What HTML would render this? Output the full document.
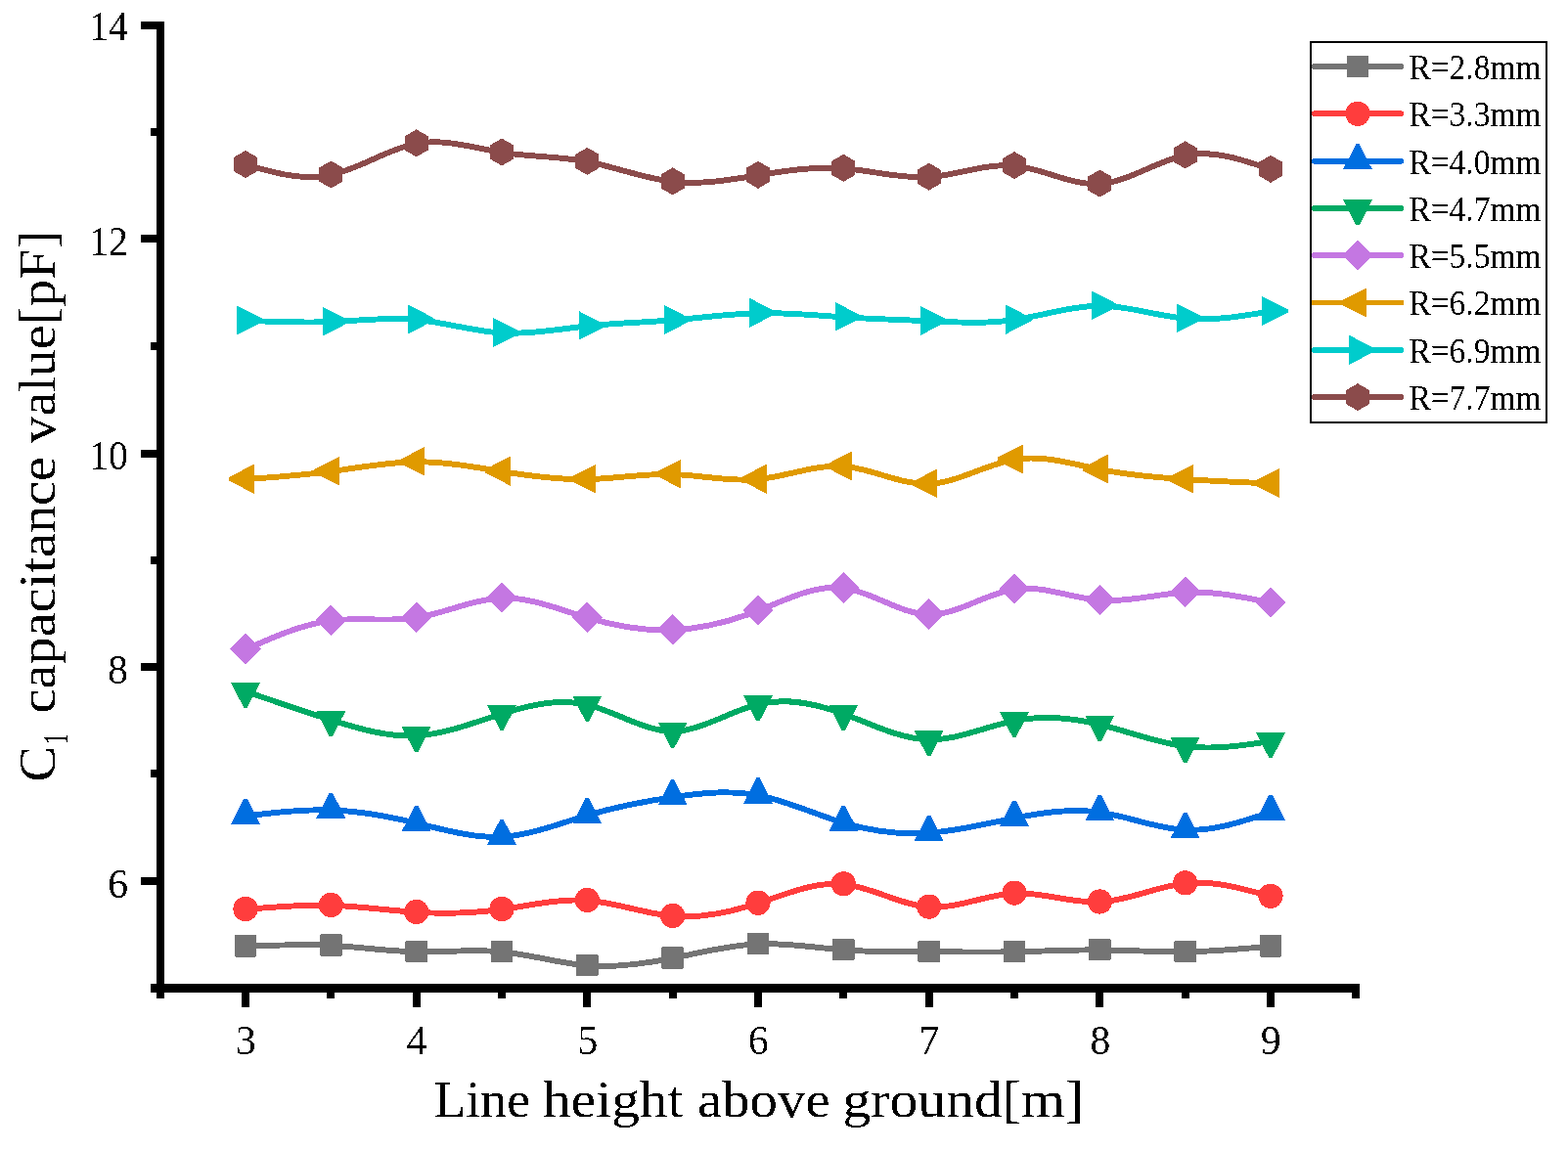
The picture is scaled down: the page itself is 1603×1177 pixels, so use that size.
<!DOCTYPE html>
<html><head><meta charset="utf-8"><style>
html,body{margin:0;padding:0;background:#fff;}
svg{display:block;}
text{font-family:'Liberation Serif', 'DejaVu Serif', serif;fill:#000;}
</style></head><body>
<svg width="1603" height="1177" viewBox="0 0 1603 1177">
<defs><filter id="bin" x="0" y="0" width="1603" height="1177" filterUnits="userSpaceOnUse"><feComponentTransfer><feFuncA type="discrete" tableValues="0 1"/></feComponentTransfer></filter></defs>
<rect width="1603" height="1177" fill="#fff"/>
<g shape-rendering="crispEdges" fill="#000">
<rect x="160.00" y="22.00" width="8.00" height="993.00"/>
<rect x="160.00" y="1015.00" width="8.00" height="6.00"/>
<rect x="154.00" y="1006.00" width="1236.00" height="9.00"/>
<rect x="247.00" y="1015.00" width="8.00" height="15.00"/>
<rect x="422.00" y="1015.00" width="8.00" height="15.00"/>
<rect x="596.00" y="1015.00" width="8.00" height="15.00"/>
<rect x="771.00" y="1015.00" width="8.00" height="15.00"/>
<rect x="946.00" y="1015.00" width="8.00" height="15.00"/>
<rect x="1120.00" y="1015.00" width="8.00" height="15.00"/>
<rect x="1295.00" y="1015.00" width="8.00" height="15.00"/>
<rect x="334.00" y="1015.00" width="8.00" height="6.00"/>
<rect x="509.00" y="1015.00" width="8.00" height="6.00"/>
<rect x="684.00" y="1015.00" width="8.00" height="6.00"/>
<rect x="858.00" y="1015.00" width="8.00" height="6.00"/>
<rect x="1033.00" y="1015.00" width="8.00" height="6.00"/>
<rect x="1208.00" y="1015.00" width="8.00" height="6.00"/>
<rect x="1382.00" y="1015.00" width="8.00" height="6.00"/>
<rect x="144.00" y="897.00" width="16.00" height="8.00"/>
<rect x="144.00" y="678.00" width="16.00" height="8.00"/>
<rect x="144.00" y="460.00" width="16.00" height="8.00"/>
<rect x="144.00" y="240.00" width="16.00" height="8.00"/>
<rect x="144.00" y="22.00" width="16.00" height="8.00"/>
<rect x="154.00" y="787.00" width="6.00" height="8.00"/>
<rect x="154.00" y="569.00" width="6.00" height="8.00"/>
<rect x="154.00" y="350.00" width="6.00" height="8.00"/>
<rect x="154.00" y="131.00" width="6.00" height="8.00"/>
</g>
<g shape-rendering="crispEdges">
<path d="M251.00 967.80 C280.11 966.52 309.22 965.24 338.33 966.80 C367.44 968.36 396.56 972.76 425.67 973.30 C454.78 973.84 483.89 970.50 513.00 973.30 C542.11 976.10 571.22 985.02 600.33 987.40 C629.44 989.78 658.56 985.61 687.67 979.80 C716.78 973.99 745.89 966.52 775.00 965.30 C804.11 964.08 833.22 969.10 862.33 971.40 C891.44 973.70 920.56 973.26 949.67 973.30 C978.78 973.34 1007.89 973.84 1037.00 973.30 C1066.11 972.76 1095.22 971.19 1124.33 971.40 C1153.44 971.61 1182.56 973.62 1211.67 973.30 C1240.78 972.98 1269.89 970.34 1299.00 967.70" fill="none" stroke="#747474" stroke-width="5.9"/>
<polygon points="240.90,956.00 261.10,956.00 262.40,957.30 262.40,977.50 261.10,978.80 240.90,978.80 239.60,977.50 239.60,957.30" fill="#747474"/>
<polygon points="328.23,955.00 348.43,955.00 349.73,956.30 349.73,976.50 348.43,977.80 328.23,977.80 326.93,976.50 326.93,956.30" fill="#747474"/>
<polygon points="415.57,961.50 435.77,961.50 437.07,962.80 437.07,983.00 435.77,984.30 415.57,984.30 414.27,983.00 414.27,962.80" fill="#747474"/>
<polygon points="502.90,961.50 523.10,961.50 524.40,962.80 524.40,983.00 523.10,984.30 502.90,984.30 501.60,983.00 501.60,962.80" fill="#747474"/>
<polygon points="590.23,975.60 610.43,975.60 611.73,976.90 611.73,997.10 610.43,998.40 590.23,998.40 588.93,997.10 588.93,976.90" fill="#747474"/>
<polygon points="677.57,968.00 697.77,968.00 699.07,969.30 699.07,989.50 697.77,990.80 677.57,990.80 676.27,989.50 676.27,969.30" fill="#747474"/>
<polygon points="764.90,953.50 785.10,953.50 786.40,954.80 786.40,975.00 785.10,976.30 764.90,976.30 763.60,975.00 763.60,954.80" fill="#747474"/>
<polygon points="852.23,959.60 872.43,959.60 873.73,960.90 873.73,981.10 872.43,982.40 852.23,982.40 850.93,981.10 850.93,960.90" fill="#747474"/>
<polygon points="939.57,961.50 959.77,961.50 961.07,962.80 961.07,983.00 959.77,984.30 939.57,984.30 938.27,983.00 938.27,962.80" fill="#747474"/>
<polygon points="1026.90,961.50 1047.10,961.50 1048.40,962.80 1048.40,983.00 1047.10,984.30 1026.90,984.30 1025.60,983.00 1025.60,962.80" fill="#747474"/>
<polygon points="1114.23,959.60 1134.43,959.60 1135.73,960.90 1135.73,981.10 1134.43,982.40 1114.23,982.40 1112.93,981.10 1112.93,960.90" fill="#747474"/>
<polygon points="1201.57,961.50 1221.77,961.50 1223.07,962.80 1223.07,983.00 1221.77,984.30 1201.57,984.30 1200.27,983.00 1200.27,962.80" fill="#747474"/>
<polygon points="1288.90,955.90 1309.10,955.90 1310.40,957.20 1310.40,977.40 1309.10,978.70 1288.90,978.70 1287.60,977.40 1287.60,957.20" fill="#747474"/>
<path d="M251.00 929.90 C280.11 927.40 309.22 924.90 338.33 925.80 C367.44 926.70 396.56 931.01 425.67 932.80 C454.78 934.59 483.89 933.87 513.00 929.90 C542.11 925.93 571.22 918.72 600.33 920.80 C629.44 922.88 658.56 934.24 687.67 936.80 C716.78 939.36 745.89 933.10 775.00 923.60 C804.11 914.10 833.22 901.34 862.33 904.20 C891.44 907.06 920.56 925.54 949.67 927.50 C978.78 929.46 1007.89 914.91 1037.00 913.50 C1066.11 912.09 1095.22 923.81 1124.33 922.40 C1153.44 920.99 1182.56 906.44 1211.67 903.30 C1240.78 900.16 1269.89 908.43 1299.00 916.70" fill="none" stroke="#FF3D3D" stroke-width="5.9"/>
<circle cx="251.00" cy="929.50" r="12.60" fill="#FF3D3D"/>
<circle cx="338.33" cy="925.40" r="12.60" fill="#FF3D3D"/>
<circle cx="425.67" cy="932.40" r="12.60" fill="#FF3D3D"/>
<circle cx="513.00" cy="929.50" r="12.60" fill="#FF3D3D"/>
<circle cx="600.33" cy="920.40" r="12.60" fill="#FF3D3D"/>
<circle cx="687.67" cy="936.40" r="12.60" fill="#FF3D3D"/>
<circle cx="775.00" cy="923.20" r="12.60" fill="#FF3D3D"/>
<circle cx="862.33" cy="903.80" r="12.60" fill="#FF3D3D"/>
<circle cx="949.67" cy="927.10" r="12.60" fill="#FF3D3D"/>
<circle cx="1037.00" cy="913.10" r="12.60" fill="#FF3D3D"/>
<circle cx="1124.33" cy="922.00" r="12.60" fill="#FF3D3D"/>
<circle cx="1211.67" cy="902.90" r="12.60" fill="#FF3D3D"/>
<circle cx="1299.00" cy="916.30" r="12.60" fill="#FF3D3D"/>
<path d="M251.00 834.50 C280.11 830.98 309.22 827.47 338.33 828.40 C367.44 829.33 396.56 834.72 425.67 841.70 C454.78 848.68 483.89 857.26 513.00 855.70 C542.11 854.14 571.22 842.45 600.33 833.80 C629.44 825.15 658.56 819.53 687.67 815.20 C716.78 810.87 745.89 807.82 775.00 813.30 C804.11 818.78 833.22 832.78 862.33 841.50 C891.44 850.22 920.56 853.66 949.67 851.70 C978.78 849.74 1007.89 842.39 1037.00 836.60 C1066.11 830.81 1095.22 826.57 1124.33 830.70 C1153.44 834.83 1182.56 847.34 1211.67 848.70 C1240.78 850.06 1269.89 840.28 1299.00 830.50" fill="none" stroke="#006EE0" stroke-width="5.9"/>
<polygon points="236.10,842.70 249.40,816.60 252.60,816.60 265.90,842.70" fill="#006EE0"/>
<polygon points="323.43,836.60 336.73,810.50 339.93,810.50 353.23,836.60" fill="#006EE0"/>
<polygon points="410.77,849.90 424.07,823.80 427.27,823.80 440.57,849.90" fill="#006EE0"/>
<polygon points="498.10,863.90 511.40,837.80 514.60,837.80 527.90,863.90" fill="#006EE0"/>
<polygon points="585.43,842.00 598.73,815.90 601.93,815.90 615.23,842.00" fill="#006EE0"/>
<polygon points="672.77,823.40 686.07,797.30 689.27,797.30 702.57,823.40" fill="#006EE0"/>
<polygon points="760.10,821.50 773.40,795.40 776.60,795.40 789.90,821.50" fill="#006EE0"/>
<polygon points="847.43,849.70 860.73,823.60 863.93,823.60 877.23,849.70" fill="#006EE0"/>
<polygon points="934.77,859.90 948.07,833.80 951.27,833.80 964.57,859.90" fill="#006EE0"/>
<polygon points="1022.10,844.80 1035.40,818.70 1038.60,818.70 1051.90,844.80" fill="#006EE0"/>
<polygon points="1109.43,838.90 1122.73,812.80 1125.93,812.80 1139.23,838.90" fill="#006EE0"/>
<polygon points="1196.77,856.90 1210.07,830.80 1213.27,830.80 1226.57,856.90" fill="#006EE0"/>
<polygon points="1284.10,838.70 1297.40,812.60 1300.60,812.60 1313.90,838.70" fill="#006EE0"/>
<path d="M251.00 707.00 C280.11 716.99 309.22 726.98 338.33 736.20 C367.44 745.42 396.56 753.85 425.67 752.30 C454.78 750.75 483.89 739.20 513.00 730.00 C542.11 720.80 571.22 713.94 600.33 720.70 C629.44 727.46 658.56 747.84 687.67 747.80 C716.78 747.76 745.89 727.31 775.00 720.20 C804.11 713.09 833.22 719.33 862.33 730.00 C891.44 740.67 920.56 755.75 949.67 756.30 C978.78 756.85 1007.89 742.85 1037.00 737.10 C1066.11 731.35 1095.22 733.84 1124.33 740.90 C1153.44 747.96 1182.56 759.57 1211.67 763.20 C1240.78 766.83 1269.89 762.46 1299.00 758.10" fill="none" stroke="#00AA64" stroke-width="5.9"/>
<polygon points="265.90,698.00 252.60,724.10 249.40,724.10 236.10,698.00" fill="#00AA64"/>
<polygon points="353.23,727.20 339.93,753.30 336.73,753.30 323.43,727.20" fill="#00AA64"/>
<polygon points="440.57,743.30 427.27,769.40 424.07,769.40 410.77,743.30" fill="#00AA64"/>
<polygon points="527.90,721.00 514.60,747.10 511.40,747.10 498.10,721.00" fill="#00AA64"/>
<polygon points="615.23,711.70 601.93,737.80 598.73,737.80 585.43,711.70" fill="#00AA64"/>
<polygon points="702.57,738.80 689.27,764.90 686.07,764.90 672.77,738.80" fill="#00AA64"/>
<polygon points="789.90,711.20 776.60,737.30 773.40,737.30 760.10,711.20" fill="#00AA64"/>
<polygon points="877.23,721.00 863.93,747.10 860.73,747.10 847.43,721.00" fill="#00AA64"/>
<polygon points="964.57,747.30 951.27,773.40 948.07,773.40 934.77,747.30" fill="#00AA64"/>
<polygon points="1051.90,728.10 1038.60,754.20 1035.40,754.20 1022.10,728.10" fill="#00AA64"/>
<polygon points="1139.23,731.90 1125.93,758.00 1122.73,758.00 1109.43,731.90" fill="#00AA64"/>
<polygon points="1226.57,754.20 1213.27,780.30 1210.07,780.30 1196.77,754.20" fill="#00AA64"/>
<polygon points="1313.90,749.10 1300.60,775.20 1297.40,775.20 1284.10,749.10" fill="#00AA64"/>
<path d="M251.00 664.10 C280.11 651.22 309.22 638.34 338.33 634.60 C367.44 630.86 396.56 636.26 425.67 631.70 C454.78 627.14 483.89 612.63 513.00 611.60 C542.11 610.57 571.22 623.01 600.33 631.70 C629.44 640.39 658.56 645.33 687.67 644.20 C716.78 643.07 745.89 635.87 775.00 624.50 C804.11 613.13 833.22 597.60 862.33 601.30 C891.44 605.00 920.56 627.95 949.67 628.40 C978.78 628.85 1007.89 606.80 1037.00 602.50 C1066.11 598.20 1095.22 611.63 1124.33 613.90 C1153.44 616.17 1182.56 607.26 1211.67 605.80 C1240.78 604.34 1269.89 610.32 1299.00 616.30" fill="none" stroke="#C477E2" stroke-width="5.9"/>
<polygon points="251.00,647.90 266.80,663.70 251.00,679.50 235.20,663.70" fill="#C477E2"/>
<polygon points="338.33,618.40 354.13,634.20 338.33,650.00 322.53,634.20" fill="#C477E2"/>
<polygon points="425.67,615.50 441.47,631.30 425.67,647.10 409.87,631.30" fill="#C477E2"/>
<polygon points="513.00,595.40 528.80,611.20 513.00,627.00 497.20,611.20" fill="#C477E2"/>
<polygon points="600.33,615.50 616.13,631.30 600.33,647.10 584.53,631.30" fill="#C477E2"/>
<polygon points="687.67,628.00 703.47,643.80 687.67,659.60 671.87,643.80" fill="#C477E2"/>
<polygon points="775.00,608.30 790.80,624.10 775.00,639.90 759.20,624.10" fill="#C477E2"/>
<polygon points="862.33,585.10 878.13,600.90 862.33,616.70 846.53,600.90" fill="#C477E2"/>
<polygon points="949.67,612.20 965.47,628.00 949.67,643.80 933.87,628.00" fill="#C477E2"/>
<polygon points="1037.00,586.30 1052.80,602.10 1037.00,617.90 1021.20,602.10" fill="#C477E2"/>
<polygon points="1124.33,597.70 1140.13,613.50 1124.33,629.30 1108.53,613.50" fill="#C477E2"/>
<polygon points="1211.67,589.60 1227.47,605.40 1211.67,621.20 1195.87,605.40" fill="#C477E2"/>
<polygon points="1299.00,600.10 1314.80,615.90 1299.00,631.70 1283.20,615.90" fill="#C477E2"/>
<path d="M251.00 490.15 C280.11 488.07 309.22 485.99 338.33 482.10 C367.44 478.21 396.56 472.50 425.67 472.30 C454.78 472.10 483.89 477.42 513.00 482.10 C542.11 486.78 571.22 490.81 600.33 490.15 C629.44 489.49 658.56 484.14 687.67 485.00 C716.78 485.86 745.89 492.92 775.00 490.15 C804.11 487.38 833.22 474.78 862.33 476.90 C891.44 479.02 920.56 495.86 949.67 494.80 C978.78 493.74 1007.89 474.79 1037.00 469.90 C1066.11 465.01 1095.22 474.18 1124.33 480.00 C1153.44 485.82 1182.56 488.31 1211.67 490.15 C1240.78 491.99 1269.89 493.20 1299.00 494.40" fill="none" stroke="#E09A00" stroke-width="5.9"/>
<polygon points="259.60,504.65 233.50,491.35 233.50,488.15 259.60,474.85" fill="#E09A00"/>
<polygon points="346.93,496.60 320.83,483.30 320.83,480.10 346.93,466.80" fill="#E09A00"/>
<polygon points="434.27,486.80 408.17,473.50 408.17,470.30 434.27,457.00" fill="#E09A00"/>
<polygon points="521.60,496.60 495.50,483.30 495.50,480.10 521.60,466.80" fill="#E09A00"/>
<polygon points="608.93,504.65 582.83,491.35 582.83,488.15 608.93,474.85" fill="#E09A00"/>
<polygon points="696.27,499.50 670.17,486.20 670.17,483.00 696.27,469.70" fill="#E09A00"/>
<polygon points="783.60,504.65 757.50,491.35 757.50,488.15 783.60,474.85" fill="#E09A00"/>
<polygon points="870.93,491.40 844.83,478.10 844.83,474.90 870.93,461.60" fill="#E09A00"/>
<polygon points="958.27,509.30 932.17,496.00 932.17,492.80 958.27,479.50" fill="#E09A00"/>
<polygon points="1045.60,484.40 1019.50,471.10 1019.50,467.90 1045.60,454.60" fill="#E09A00"/>
<polygon points="1132.93,494.50 1106.83,481.20 1106.83,478.00 1132.93,464.70" fill="#E09A00"/>
<polygon points="1220.27,504.65 1194.17,491.35 1194.17,488.15 1220.27,474.85" fill="#E09A00"/>
<polygon points="1307.60,508.90 1281.50,495.60 1281.50,492.40 1307.60,479.10" fill="#E09A00"/>
<path d="M251.00 327.80 C280.11 329.06 309.22 330.32 338.33 329.10 C367.44 327.88 396.56 324.18 425.67 326.90 C454.78 329.62 483.89 338.78 513.00 340.50 C542.11 342.22 571.22 336.52 600.33 333.40 C629.44 330.28 658.56 329.76 687.67 327.40 C716.78 325.04 745.89 320.85 775.00 320.20 C804.11 319.55 833.22 322.44 862.33 324.30 C891.44 326.16 920.56 327.01 949.67 328.30 C978.78 329.59 1007.89 331.34 1037.00 327.10 C1066.11 322.86 1095.22 312.65 1124.33 312.70 C1153.44 312.75 1182.56 323.06 1211.67 325.70 C1240.78 328.34 1269.89 323.32 1299.00 318.30" fill="none" stroke="#00CCCC" stroke-width="5.9"/>
<polygon points="242.40,312.50 268.50,325.80 268.50,329.00 242.40,342.30" fill="#00CCCC"/>
<polygon points="329.73,313.80 355.83,327.10 355.83,330.30 329.73,343.60" fill="#00CCCC"/>
<polygon points="417.07,311.60 443.17,324.90 443.17,328.10 417.07,341.40" fill="#00CCCC"/>
<polygon points="504.40,325.20 530.50,338.50 530.50,341.70 504.40,355.00" fill="#00CCCC"/>
<polygon points="591.73,318.10 617.83,331.40 617.83,334.60 591.73,347.90" fill="#00CCCC"/>
<polygon points="679.07,312.10 705.17,325.40 705.17,328.60 679.07,341.90" fill="#00CCCC"/>
<polygon points="766.40,304.90 792.50,318.20 792.50,321.40 766.40,334.70" fill="#00CCCC"/>
<polygon points="853.73,309.00 879.83,322.30 879.83,325.50 853.73,338.80" fill="#00CCCC"/>
<polygon points="941.07,313.00 967.17,326.30 967.17,329.50 941.07,342.80" fill="#00CCCC"/>
<polygon points="1028.40,311.80 1054.50,325.10 1054.50,328.30 1028.40,341.60" fill="#00CCCC"/>
<polygon points="1115.73,297.40 1141.83,310.70 1141.83,313.90 1115.73,327.20" fill="#00CCCC"/>
<polygon points="1203.07,310.40 1229.17,323.70 1229.17,326.90 1203.07,340.20" fill="#00CCCC"/>
<polygon points="1290.40,303.00 1316.50,316.30 1316.50,319.50 1290.40,332.80" fill="#00CCCC"/>
<path d="M251.00 168.40 C280.11 176.72 309.22 185.04 338.33 178.90 C367.44 172.76 396.56 152.16 425.67 146.80 C454.78 141.44 483.89 151.31 513.00 155.90 C542.11 160.49 571.22 159.79 600.33 165.30 C629.44 170.81 658.56 182.51 687.67 185.80 C716.78 189.09 745.89 183.96 775.00 179.20 C804.11 174.45 833.22 170.07 862.33 172.20 C891.44 174.33 920.56 182.98 949.67 181.10 C978.78 179.22 1007.89 166.83 1037.00 169.50 C1066.11 172.17 1095.22 189.91 1124.33 188.00 C1153.44 186.09 1182.56 164.54 1211.67 158.80 C1240.78 153.06 1269.89 163.13 1299.00 173.20" fill="none" stroke="#8B4B4B" stroke-width="5.9"/>
<polygon points="251.00,154.00 263.12,161.00 263.12,175.00 251.00,182.00 238.88,175.00 238.88,161.00" fill="#8B4B4B"/>
<polygon points="338.33,164.50 350.46,171.50 350.46,185.50 338.33,192.50 326.21,185.50 326.21,171.50" fill="#8B4B4B"/>
<polygon points="425.67,132.40 437.79,139.40 437.79,153.40 425.67,160.40 413.54,153.40 413.54,139.40" fill="#8B4B4B"/>
<polygon points="513.00,141.50 525.12,148.50 525.12,162.50 513.00,169.50 500.88,162.50 500.88,148.50" fill="#8B4B4B"/>
<polygon points="600.33,150.90 612.46,157.90 612.46,171.90 600.33,178.90 588.21,171.90 588.21,157.90" fill="#8B4B4B"/>
<polygon points="687.67,171.40 699.79,178.40 699.79,192.40 687.67,199.40 675.54,192.40 675.54,178.40" fill="#8B4B4B"/>
<polygon points="775.00,164.80 787.12,171.80 787.12,185.80 775.00,192.80 762.88,185.80 762.88,171.80" fill="#8B4B4B"/>
<polygon points="862.33,157.80 874.46,164.80 874.46,178.80 862.33,185.80 850.21,178.80 850.21,164.80" fill="#8B4B4B"/>
<polygon points="949.67,166.70 961.79,173.70 961.79,187.70 949.67,194.70 937.54,187.70 937.54,173.70" fill="#8B4B4B"/>
<polygon points="1037.00,155.10 1049.12,162.10 1049.12,176.10 1037.00,183.10 1024.88,176.10 1024.88,162.10" fill="#8B4B4B"/>
<polygon points="1124.33,173.60 1136.46,180.60 1136.46,194.60 1124.33,201.60 1112.21,194.60 1112.21,180.60" fill="#8B4B4B"/>
<polygon points="1211.67,144.40 1223.79,151.40 1223.79,165.40 1211.67,172.40 1199.54,165.40 1199.54,151.40" fill="#8B4B4B"/>
<polygon points="1299.00,158.80 1311.12,165.80 1311.12,179.80 1299.00,186.80 1286.88,179.80 1286.88,165.80" fill="#8B4B4B"/>
</g>
<g filter="url(#bin)">
<g font-size="42">
<text x="131.0" y="917.60" text-anchor="end">6</text>
<text x="131.0" y="698.60" text-anchor="end">8</text>
<text x="131.0" y="479.60" text-anchor="end" textLength="39.8" lengthAdjust="spacingAndGlyphs">10</text>
<text x="131.0" y="261.00" text-anchor="end" textLength="39.8" lengthAdjust="spacingAndGlyphs">12</text>
<text x="131.0" y="41.00" text-anchor="end" textLength="39.8" lengthAdjust="spacingAndGlyphs">14</text>
<text x="251.30" y="1078.4" text-anchor="middle">3</text>
<text x="425.97" y="1078.4" text-anchor="middle">4</text>
<text x="600.63" y="1078.4" text-anchor="middle">5</text>
<text x="775.30" y="1078.4" text-anchor="middle">6</text>
<text x="949.97" y="1078.4" text-anchor="middle">7</text>
<text x="1124.63" y="1078.4" text-anchor="middle">8</text>
<text x="1299.30" y="1078.4" text-anchor="middle">9</text>
</g>
<text x="443.50" y="1141.60" font-size="53.4" textLength="98.54" lengthAdjust="spacingAndGlyphs">Line</text>
<text x="555.00" y="1141.60" font-size="53.4" textLength="143.50" lengthAdjust="spacingAndGlyphs">height</text>
<text x="713.00" y="1141.60" font-size="53.4" textLength="135.59" lengthAdjust="spacingAndGlyphs">above</text>
<text x="861.50" y="1141.60" font-size="53.4" textLength="246.62" lengthAdjust="spacingAndGlyphs">ground[m]</text>
<text transform="translate(56.00 799.50) rotate(-90)" font-size="53.4" textLength="36.57" lengthAdjust="spacingAndGlyphs">C</text>
<text transform="translate(69.00 761.00) rotate(-90)" font-size="36" textLength="10.94" lengthAdjust="spacingAndGlyphs">1</text>
<text transform="translate(56.00 729.50) rotate(-90)" font-size="53.4" textLength="262.54" lengthAdjust="spacingAndGlyphs">capacitance</text>
<text transform="translate(56.00 453.50) rotate(-90)" font-size="53.4" textLength="217.55" lengthAdjust="spacingAndGlyphs">value[pF]</text>
<text x="1440.40" y="80.90" font-size="35.3" textLength="135.20" lengthAdjust="spacingAndGlyphs">R=2.8mm</text>
<text x="1440.40" y="129.20" font-size="35.3" textLength="135.20" lengthAdjust="spacingAndGlyphs">R=3.3mm</text>
<text x="1440.40" y="177.50" font-size="35.3" textLength="135.20" lengthAdjust="spacingAndGlyphs">R=4.0mm</text>
<text x="1440.40" y="225.80" font-size="35.3" textLength="135.20" lengthAdjust="spacingAndGlyphs">R=4.7mm</text>
<text x="1440.40" y="274.10" font-size="35.3" textLength="135.20" lengthAdjust="spacingAndGlyphs">R=5.5mm</text>
<text x="1440.40" y="322.40" font-size="35.3" textLength="135.20" lengthAdjust="spacingAndGlyphs">R=6.2mm</text>
<text x="1440.40" y="370.70" font-size="35.3" textLength="135.20" lengthAdjust="spacingAndGlyphs">R=6.9mm</text>
<text x="1440.40" y="419.00" font-size="35.3" textLength="135.20" lengthAdjust="spacingAndGlyphs">R=7.7mm</text>
</g>
<rect x="1340" y="43" width="241" height="389" fill="none" stroke="#000" stroke-width="2" shape-rendering="crispEdges"/>
<g shape-rendering="crispEdges">
<line x1="1343.8" y1="68.00" x2="1432.2" y2="68.00" stroke="#747474" stroke-width="5.9" stroke-linecap="round"/>
<polygon points="1377.90,56.60 1398.10,56.60 1399.40,57.90 1399.40,78.10 1398.10,79.40 1377.90,79.40 1376.60,78.10 1376.60,57.90" fill="#747474"/>
<line x1="1343.8" y1="116.30" x2="1432.2" y2="116.30" stroke="#FF3D3D" stroke-width="5.9" stroke-linecap="round"/>
<circle cx="1388.00" cy="116.30" r="12.60" fill="#FF3D3D"/>
<line x1="1343.8" y1="164.60" x2="1432.2" y2="164.60" stroke="#006EE0" stroke-width="5.9" stroke-linecap="round"/>
<polygon points="1373.10,173.20 1386.40,147.10 1389.60,147.10 1402.90,173.20" fill="#006EE0"/>
<line x1="1343.8" y1="212.90" x2="1432.2" y2="212.90" stroke="#00AA64" stroke-width="5.9" stroke-linecap="round"/>
<polygon points="1402.90,204.30 1389.60,230.40 1386.40,230.40 1373.10,204.30" fill="#00AA64"/>
<line x1="1343.8" y1="261.20" x2="1432.2" y2="261.20" stroke="#C477E2" stroke-width="5.9" stroke-linecap="round"/>
<polygon points="1388.00,245.40 1403.80,261.20 1388.00,277.00 1372.20,261.20" fill="#C477E2"/>
<line x1="1343.8" y1="309.50" x2="1432.2" y2="309.50" stroke="#E09A00" stroke-width="5.9" stroke-linecap="round"/>
<polygon points="1396.60,324.40 1370.50,311.10 1370.50,307.90 1396.60,294.60" fill="#E09A00"/>
<line x1="1343.8" y1="357.80" x2="1432.2" y2="357.80" stroke="#00CCCC" stroke-width="5.9" stroke-linecap="round"/>
<polygon points="1379.40,342.90 1405.50,356.20 1405.50,359.40 1379.40,372.70" fill="#00CCCC"/>
<line x1="1343.8" y1="406.10" x2="1432.2" y2="406.10" stroke="#8B4B4B" stroke-width="5.9" stroke-linecap="round"/>
<polygon points="1388.00,392.10 1400.12,399.10 1400.12,413.10 1388.00,420.10 1375.88,413.10 1375.88,399.10" fill="#8B4B4B"/>
</g>
</svg>
</body></html>
